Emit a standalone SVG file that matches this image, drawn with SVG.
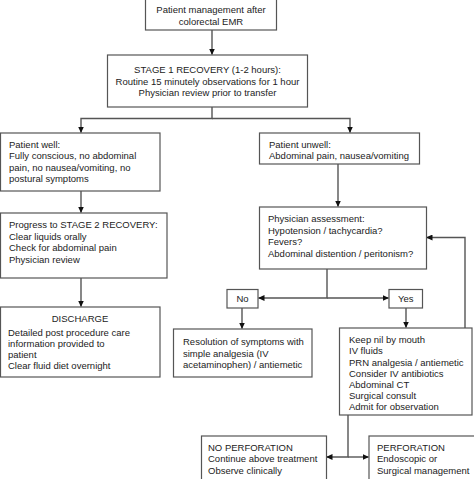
<svg xmlns="http://www.w3.org/2000/svg" width="474" height="479" viewBox="0 0 474 479">
<style>
.box{fill:#fff;stroke:#555;stroke-width:1.2}
.t{font-family:"Liberation Sans",Arial,Helvetica,sans-serif;font-size:9.5px;fill:#222}
.c{text-anchor:middle}
.ln{fill:none;stroke:#555;stroke-width:1.4}
</style>
<defs>
<marker id="ah" markerUnits="userSpaceOnUse" markerWidth="7" markerHeight="6" refX="6" refY="3" orient="auto">
<path d="M0,0 L6.5,3 L0,6 z" fill="#111"/>
</marker>
</defs>
<rect width="474" height="479" fill="#fff"/>
<g id="connectors">
<path class="ln" d="M212,30 V54.5" marker-end="url(#ah)"/>
<path class="ln" d="M212,107 V118.5 H81 V132.5" marker-end="url(#ah)"/>
<path class="ln" d="M212,118.5 H350 V132.5" marker-end="url(#ah)"/>
<path class="ln" d="M81,191 V212.5" marker-end="url(#ah)"/>
<path class="ln" d="M81,278 V306.5" marker-end="url(#ah)"/>
<path class="ln" d="M338,164 V206.5" marker-end="url(#ah)"/>
<path class="ln" d="M327,269 V298 H258.5" marker-end="url(#ah)"/>
<path class="ln" d="M327,298 H388.5" marker-end="url(#ah)"/>
<path class="ln" d="M242,308 V328.5" marker-end="url(#ah)"/>
<path class="ln" d="M406,308 V327.5" marker-end="url(#ah)"/>
<path class="ln" d="M465,328 V237.5 H426.5" marker-end="url(#ah)"/>
<path class="ln" d="M348,415 V457 H326.5" marker-end="url(#ah)"/>
<path class="ln" d="M348,457 H368.5" marker-end="url(#ah)"/>
</g>
<g id="start">
<rect class="box" x="145.5" y="-1" width="131" height="31"/>
<text class="t c" x="211" y="13">Patient management after</text>
<text class="t c" x="211" y="24.5">colorectal EMR</text>
</g>
<g id="stage1">
<rect class="box" x="107.5" y="55" width="200" height="52"/>
<text class="t c" x="207.5" y="73">STAGE 1 RECOVERY (1-2 hours):</text>
<text class="t c" x="207.5" y="84.5">Routine 15 minutely observations for 1 hour</text>
<text class="t c" x="207.5" y="96">Physician review prior to transfer</text>
</g>
<g id="well">
<rect class="box" x="0.5" y="133" width="159.5" height="58"/>
<text class="t" x="9" y="147.5">Patient well:</text>
<text class="t" x="9" y="159">Fully conscious, no abdominal</text>
<text class="t" x="9" y="170.5">pain, no nausea/vomiting, no</text>
<text class="t" x="9" y="182">postural symptoms</text>
</g>
<g id="unwell">
<rect class="box" x="259.5" y="133" width="160" height="31"/>
<text class="t" x="269" y="147.5">Patient unwell:</text>
<text class="t" x="269" y="159">Abdominal pain, nausea/vomiting</text>
</g>
<g id="stage2">
<rect class="box" x="0.5" y="213" width="166.5" height="65"/>
<text class="t" x="9" y="228">Progress to STAGE 2 RECOVERY:</text>
<text class="t" x="9" y="239.5">Clear liquids orally</text>
<text class="t" x="9" y="251">Check for abdominal pain</text>
<text class="t" x="9" y="262.5">Physician review</text>
</g>
<g id="discharge">
<rect class="box" x="0.5" y="307" width="159.5" height="70"/>
<text class="t c" x="80" y="321.5">DISCHARGE</text>
<text class="t" x="8" y="335.5">Detailed post procedure care</text>
<text class="t" x="8" y="346.5">information provided to</text>
<text class="t" x="8" y="357.5">patient</text>
<text class="t" x="8" y="368.5">Clear fluid diet overnight</text>
</g>
<g id="assessment">
<rect class="box" x="259.5" y="207" width="167" height="62"/>
<text class="t" x="268" y="222">Physician assessment:</text>
<text class="t" x="268" y="233.5">Hypotension / tachycardia?</text>
<text class="t" x="268" y="245">Fevers?</text>
<text class="t" x="268" y="256.5">Abdominal distention / peritonism?</text>
</g>
<g id="no">
<rect class="box" x="227" y="289.5" width="31" height="18.5"/>
<text class="t c" x="242.5" y="302">No</text>
</g>
<g id="yes">
<rect class="box" x="389" y="289.5" width="33.5" height="18.5"/>
<text class="t c" x="405.75" y="302">Yes</text>
</g>
<g id="resolution">
<rect class="box" x="173.5" y="329" width="138.5" height="48"/>
<text class="t" x="183" y="345">Resolution of symptoms with</text>
<text class="t" x="183" y="356.5">simple analgesia (IV</text>
<text class="t" x="183" y="368">acetaminophen) / antiemetic</text>
</g>
<g id="treatment">
<rect class="box" x="339.5" y="328" width="132.5" height="87"/>
<text class="t" x="349" y="342.5">Keep nil by mouth</text>
<text class="t" x="349" y="354">IV fluids</text>
<text class="t" x="349" y="365.5">PRN analgesia / antiemetic</text>
<text class="t" x="349" y="376.5">Consider IV antibiotics</text>
<text class="t" x="349" y="388">Abdominal CT</text>
<text class="t" x="349" y="399">Surgical consult</text>
<text class="t" x="349" y="410">Admit for observation</text>
</g>
<g id="noperf">
<rect class="box" x="201.5" y="436" width="125" height="46"/>
<text class="t" x="208" y="450.5">NO PERFORATION</text>
<text class="t" x="208" y="462">Continue above treatment</text>
<text class="t" x="208" y="473.5">Observe clinically</text>
</g>
<g id="perf">
<rect class="box" x="369" y="436" width="108" height="46"/>
<text class="t" x="377" y="450.5">PERFORATION</text>
<text class="t" x="377" y="462">Endoscopic or</text>
<text class="t" x="377" y="473.5">Surgical management</text>
</g>
</svg>
